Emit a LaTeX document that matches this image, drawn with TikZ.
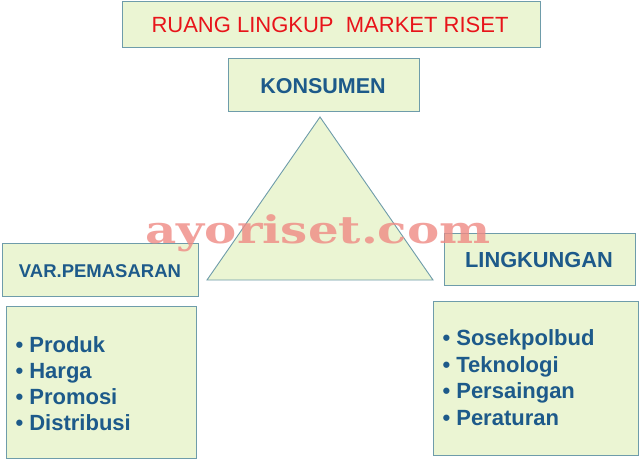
\documentclass[tikz,border=0pt]{standalone}
\usepackage{fontspec}
\setmainfont{Liberation Sans}
\newfontfamily\wmfont{DejaVu Serif}
\definecolor{boxfill}{HTML}{EBF5D3}
\definecolor{boxline}{HTML}{6E9CAA}
\definecolor{txtblue}{HTML}{1D5A8A}
\definecolor{titlered}{HTML}{E8141A}
\definecolor{wmpink}{HTML}{EF8A84}
\tikzset{
  panel/.style={draw=boxline, fill=boxfill, line width=0.9pt, inner sep=0pt},
  label/.style={text=txtblue, font=\bfseries\fontsize{19}{22}\selectfont, anchor=base},
  item/.style={text=txtblue, font=\bfseries\fontsize{22}{26}\selectfont, anchor=base west},
}
\begin{document}
\begin{tikzpicture}[x=1pt,y=-1pt]
\useasboundingbox (0,0) rectangle (640,460);
\fill[white] (0,0) rectangle (640,460);
% title
\draw[panel] (122,1) rectangle (540,47);
\node[anchor=base, text=titlered, font=\fontsize{22}{26}\selectfont] (title) at (330,33) {RUANG LINGKUP\ \ MARKET RISET};
% konsumen
\draw[panel] (228,58) rectangle (419,111);
\node[label, font=\bfseries\fontsize{21.5}{24}\selectfont] (kons) at (323,93) {KONSUMEN};
% triangle
\draw[panel] (320,117) coordinate (apex) -- (433,280) coordinate (br) -- (207,280) coordinate (bl) -- cycle;
% var pemasaran
\draw[panel] (2,243) rectangle (198,296);
\node[label, font=\bfseries\fontsize{18.5}{22}\selectfont] (var) at (100,277) {VAR.PEMASARAN};
% lingkungan
\draw[panel] (444,233) rectangle (635,285);
\node[label, font=\bfseries\fontsize{21.8}{24}\selectfont] (ling) at (539,267) {LINGKUNGAN};
% left list
\draw[panel] (6,306) rectangle (196,458);
\node[item] (l1) at (12,352) {\textbullet\ Produk};
\node[item] (l2) at (12,378) {\textbullet\ Harga};
\node[item] (l3) at (12,404) {\textbullet\ Promosi};
\node[item] (l4) at (12,430) {\textbullet\ Distribusi};
% right list
\draw[panel] (433,301) rectangle (638,455);
\node[item] (r1) at (439,345) {\textbullet\ Sosekpolbud};
\node[item] (r2) at (439,372) {\textbullet\ Teknologi};
\node[item] (r3) at (439,398) {\textbullet\ Persaingan};
\node[item] (r4) at (439,425) {\textbullet\ Peraturan};
% watermark
\node[anchor=base, text=wmpink, opacity=0.8, xscale=1.27, font=\wmfont\bfseries\fontsize{38}{42}\selectfont] (wm) at (318,243) {ayoriset.com};
\end{tikzpicture}
\end{document}
